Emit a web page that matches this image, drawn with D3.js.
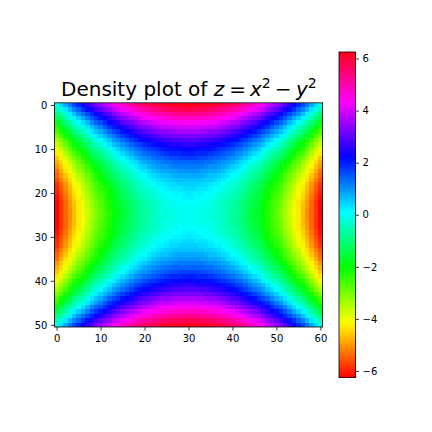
<!DOCTYPE html>
<html>
<head>
<meta charset="utf-8">
<script src="https://cdn.jsdelivr.net/npm/d3@7"></script>
<style>
body { margin: 0; background: #fff; }
svg { display: block; }
text { font-family: "DejaVu Sans"; fill: #000; }
.tick text { font-size: 10px; }
.tick line, .domain { stroke: #000; stroke-width: 0.8; }
</style>
</head>
<body>
<div id="chart"></div>
<script>
var xTicks = [0, 10, 20, 30, 40, 50, 60];
var yTicks = [0, 10, 20, 30, 40, 50];
var barTicks = [-6, -4, -2, 0, 2, 4, 6];
var colCount = 61;
var rowCount = 51;
var zMin = -6.25;
var zMax = 6.25;

// hsv colormap stops
var cmapStops = [0, 0.15873, 0.174603, 0.333333, 0.349206, 0.507937, 0.666667, 0.68254, 0.84127, 0.857143, 1];
var cmapColors = ["rgb(255,0,0)", "rgb(255,239,0)", "rgb(247,255,0)", "rgb(8,255,0)", "rgb(0,255,16)", "rgb(0,255,255)",
                  "rgb(0,16,255)", "rgb(8,0,255)", "rgb(247,0,255)", "rgb(255,0,239)", "rgb(255,0,24)"];

// the picture is mirror symmetric so the other three quarters reflect this table
var zQuarter = [
[0,.4,.8,1.2,1.6,1.9,2.3,2.6,2.9,3.2,3.5,3.7,4,4.2,4.5,4.7,4.9,5.1,5.3,5.4,5.6,5.7,5.8,5.9,6,6.1,6.1,6.2,6.2,6.2,6.25],
[-.5,-.1,.3,.7,1.1,1.4,1.8,2.1,2.4,2.7,3,3.3,3.5,3.8,4,4.2,4.4,4.6,4.8,4.9,5.1,5.2,5.3,5.4,5.5,5.6,5.7,5.7,5.7,5.8,5.8],
[-1,-.6,-.2,.2,.6,1,1.3,1.6,1.9,2.2,2.5,2.8,3,3.3,3.5,3.7,3.9,4.1,4.3,4.5,4.6,4.7,4.9,5,5,5.1,5.2,5.2,5.3,5.3,5.3],
[-1.4,-1,-.6,-.2,.2,.5,.8,1.2,1.5,1.8,2.1,2.3,2.6,2.8,3.1,3.3,3.5,3.7,3.8,4,4.2,4.3,4.4,4.5,4.6,4.7,4.7,4.8,4.8,4.8,4.8],
[-1.8,-1.4,-1,-.7,-.3,.1,.4,.7,1.1,1.4,1.6,1.9,2.2,2.4,2.6,2.9,3.1,3.2,3.4,3.6,3.7,3.9,4,4.1,4.2,4.2,4.3,4.4,4.4,4.4,4.4],
[-2.3,-1.8,-1.4,-1.1,-.7,-.3,0,.3,.6,.9,1.2,1.5,1.8,2,2.2,2.4,2.6,2.8,3,3.2,3.3,3.4,3.6,3.7,3.8,3.8,3.9,3.9,4,4,4],
[-2.6,-2.2,-1.8,-1.5,-1.1,-.7,-.4,-.1,.3,.6,.8,1.1,1.4,1.6,1.8,2.1,2.3,2.4,2.6,2.8,2.9,3.1,3.2,3.3,3.4,3.4,3.5,3.6,3.6,3.6,3.6],
[-3,-2.6,-2.2,-1.8,-1.5,-1.1,-.8,-.4,-.1,.2,.5,.7,1,1.2,1.5,1.7,1.9,2.1,2.2,2.4,2.6,2.7,2.8,2.9,3,3.1,3.1,3.2,3.2,3.2,3.2],
[-3.4,-3,-2.6,-2.2,-1.8,-1.5,-1.1,-.8,-.5,-.2,.1,.4,.6,.9,1.1,1.3,1.5,1.7,1.9,2.1,2.2,2.3,2.5,2.6,2.6,2.7,2.8,2.8,2.9,2.9,2.9],
[-3.7,-3.3,-2.9,-2.5,-2.1,-1.8,-1.4,-1.1,-.8,-.5,-.2,.1,.3,.6,.8,1,1.2,1.4,1.6,1.7,1.9,2,2.1,2.2,2.3,2.4,2.5,2.5,2.5,2.6,2.6],
[-4,-3.6,-3.2,-2.8,-2.4,-2.1,-1.8,-1.4,-1.1,-.8,-.5,-.3,0,.2,.5,.7,.9,1.1,1.3,1.4,1.6,1.7,1.8,1.9,2,2.1,2.1,2.2,2.2,2.2,2.3],
[-4.3,-3.9,-3.5,-3.1,-2.7,-2.4,-2,-1.7,-1.4,-1.1,-.8,-.6,-.3,-.1,.2,.4,.6,.8,1,1.1,1.3,1.4,1.5,1.6,1.7,1.8,1.9,1.9,1.9,2,2],
[-4.6,-4.2,-3.8,-3.4,-3,-2.7,-2.3,-2,-1.7,-1.4,-1.1,-.8,-.6,-.3,-.1,.1,.3,.5,.7,.9,1,1.1,1.3,1.4,1.4,1.5,1.6,1.6,1.7,1.7,1.7],
[-4.8,-4.4,-4,-3.6,-3.3,-2.9,-2.6,-2.2,-1.9,-1.6,-1.3,-1.1,-.8,-.6,-.3,-.1,.1,.3,.4,.6,.8,.9,1,1.1,1.2,1.3,1.3,1.4,1.4,1.4,1.4],
[-5,-4.6,-4.2,-3.9,-3.5,-3.1,-2.8,-2.5,-2.2,-1.9,-1.6,-1.3,-1,-.8,-.6,-.4,-.2,0,.2,.4,.5,.7,.8,.9,1,1,1.1,1.2,1.2,1.2,1.2],
[-5.3,-4.8,-4.4,-4.1,-3.7,-3.3,-3,-2.7,-2.4,-2.1,-1.8,-1.5,-1.3,-1,-.8,-.6,-.4,-.2,0,.2,.3,.4,.6,.7,.8,.8,.9,.9,1,1,1],
[-5.4,-5,-4.6,-4.3,-3.9,-3.5,-3.2,-2.9,-2.6,-2.3,-2,-1.7,-1.4,-1.2,-1,-.8,-.6,-.4,-.2,0,.1,.3,.4,.5,.6,.6,.7,.8,.8,.8,.8],
[-5.6,-5.2,-4.8,-4.4,-4.1,-3.7,-3.4,-3,-2.7,-2.4,-2.1,-1.9,-1.6,-1.4,-1.1,-.9,-.7,-.5,-.4,-.2,-.1,.1,.2,.3,.4,.5,.5,.6,.6,.6,.6],
[-5.8,-5.4,-5,-4.6,-4.2,-3.9,-3.5,-3.2,-2.9,-2.6,-2.3,-2,-1.8,-1.5,-1.3,-1.1,-.9,-.7,-.5,-.4,-.2,-.1,.1,.2,.2,.3,.4,.4,.5,.5,.5],
[-5.9,-5.5,-5.1,-4.7,-4.3,-4,-3.6,-3.3,-3,-2.7,-2.4,-2.2,-1.9,-1.7,-1.4,-1.2,-1,-.8,-.6,-.5,-.3,-.2,-.1,0,.1,.2,.3,.3,.3,.4,.4],
[-6,-5.6,-5.2,-4.8,-4.4,-4.1,-3.8,-3.4,-3.1,-2.8,-2.5,-2.3,-2,-1.8,-1.5,-1.3,-1.1,-.9,-.8,-.6,-.4,-.3,-.2,-.1,0,.1,.1,.2,.2,.2,.3],
[-6.1,-5.7,-5.3,-4.9,-4.5,-4.2,-3.8,-3.5,-3.2,-2.9,-2.6,-2.4,-2.1,-1.9,-1.6,-1.4,-1.2,-1,-.8,-.7,-.5,-.4,-.3,-.2,-.1,0,.1,.1,.1,.2,.2],
[-6.2,-5.8,-5.4,-5,-4.6,-4.3,-3.9,-3.6,-3.3,-3,-2.7,-2.4,-2.2,-1.9,-1.7,-1.5,-1.3,-1.1,-.9,-.8,-.6,-.5,-.4,-.3,-.2,-.1,0,0,.1,.1,.1],
[-6.2,-5.8,-5.4,-5,-4.7,-4.3,-4,-3.6,-3.3,-3,-2.7,-2.5,-2.2,-2,-1.7,-1.5,-1.3,-1.1,-1,-.8,-.7,-.5,-.4,-.3,-.2,-.1,-.1,0,0,0,0],
[-6.2,-5.8,-5.4,-5.1,-4.7,-4.3,-4,-3.7,-3.4,-3.1,-2.8,-2.5,-2.2,-2,-1.8,-1.6,-1.4,-1.2,-1,-.8,-.7,-.6,-.4,-.3,-.2,-.2,-.1,-.1,0,0,0],
[-6.25,-5.8,-5.4,-5.1,-4.7,-4.3,-4,-3.7,-3.4,-3.1,-2.8,-2.5,-2.3,-2,-1.8,-1.6,-1.4,-1.2,-1,-.8,-.7,-.6,-.4,-.3,-.3,-.2,-.1,-.1,0,0,0]
];

var width = 432;
var height = 432;

var svg = d3.select("#chart").append("svg")
            .attr("width", width)
            .attr("height", height);

var x = d3.scaleLinear().domain([-0.5, 60.5]).range([54.4, 322.6]);
var y = d3.scaleLinear().domain([-0.5, 50.5]).range([102.8, 327]);
var barY = d3.scaleLinear().domain([zMin, zMax]).range([377.5, 52]);

var color = d3.scaleLinear()
              .domain(cmapStops.map(function (t) { return zMin + t * (zMax - zMin); }))
              .range(cmapColors);

// Build the cells, folding indexes back into the quarter table
var cells = [];
d3.range(rowCount).forEach(function (r) {
    d3.range(colCount).forEach(function (c) {
        var rr = r <= 25 ? r : 50 - r;
        var cc = c <= 30 ? c : 60 - c;
        cells.push({ r: r, c: c, z: zQuarter[rr][cc] });
    });
});

// snapped to whole pixels so neighbouring cells don't leave seams
svg.append("g").attr("shape-rendering", "crispEdges").selectAll("rect")
   .data(cells)
   .enter()
   .append("rect")
   .attr("x", function (d) { return Math.round(x(d.c - 0.5)); })
   .attr("y", function (d) { return Math.round(y(d.r - 0.5)); })
   .attr("width", function (d) { return Math.round(x(d.c + 0.5)) - Math.round(x(d.c - 0.5)); })
   .attr("height", function (d) { return Math.round(y(d.r + 0.5)) - Math.round(y(d.r - 0.5)); })
   .attr("fill", function (d) { return color(d.z); });

// Frame and axes
svg.append("rect")
   .attr("x", x(-0.5)).attr("y", y(-0.5))
   .attr("width", x(60.5) - x(-0.5)).attr("height", y(50.5) - y(-0.5))
   .attr("fill", "none").attr("stroke", "#000").attr("stroke-width", 0.8);

svg.append("g")
   .attr("transform", "translate(0," + y(50.5) + ")")
   .call(d3.axisBottom(x).tickValues(xTicks).tickSize(3.5).tickSizeOuter(0).tickPadding(4))
   .select(".domain").remove();

svg.append("g")
   .attr("transform", "translate(" + x(-0.5) + ",0)")
   .call(d3.axisLeft(y).tickValues(yTicks).tickSize(3.5).tickSizeOuter(0).tickPadding(3.5))
   .select(".domain").remove();

// Colour bar
var levels = d3.range(256).map(function (i) { return zMin + (i + 0.5) / 256 * (zMax - zMin); });
var step = (zMax - zMin) / 256;

svg.append("g").attr("shape-rendering", "crispEdges").selectAll("rect")
   .data(levels)
   .enter()
   .append("rect")
   .attr("x", 339)
   .attr("y", function (d) { return Math.round(barY(d + step / 2)); })
   .attr("width", 16.5)
   .attr("height", function (d) { return Math.round(barY(d - step / 2)) - Math.round(barY(d + step / 2)); })
   .attr("fill", function (d) { return color(d); });

svg.append("rect")
   .attr("x", 339).attr("y", barY(zMax))
   .attr("width", 16.5).attr("height", barY(zMin) - barY(zMax))
   .attr("fill", "none").attr("stroke", "#000").attr("stroke-width", 0.8);

svg.append("g")
   .attr("transform", "translate(355.5,0)")
   .call(d3.axisRight(barY).tickValues(barTicks).tickSize(3.5).tickSizeOuter(0).tickPadding(3.5)
           .tickFormat(function (d) { return d3.format("d")(d).replace("-", "\u2212"); }))
   .select(".domain").remove();

// Title
var title = svg.append("text")
               .attr("x", 61)
               .attr("y", 96)
               .attr("font-size", 20)
               .attr("xml:space", "preserve");
title.append("tspan").text("Density plot of ");
title.append("tspan").attr("font-style", "italic").text("z");
title.append("tspan").attr("dx", 5).text("=");
title.append("tspan").attr("dx", 4).attr("font-style", "italic").text("x");
title.append("tspan").attr("dy", -8).attr("font-size", 14).text("2");
title.append("tspan").attr("dy", 8).attr("dx", 4).text("\u2212");
title.append("tspan").attr("dx", 4.5).attr("font-style", "italic").text("y");
title.append("tspan").attr("dy", -8).attr("font-size", 14).text("2");
</script>
</body>
</html>
